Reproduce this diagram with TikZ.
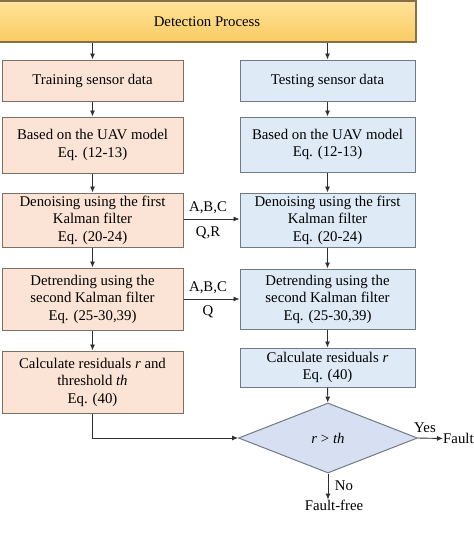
\documentclass[tikz,border=0pt]{standalone}
\usepackage{fontspec}
\setmainfont{Liberation Serif}
\usetikzlibrary{shapes.geometric,arrows.meta}
\definecolor{lfill}{HTML}{FBE4D5}
\definecolor{lline}{HTML}{7E6F66}
\definecolor{rfill}{HTML}{DEEAF6}
\definecolor{rline}{HTML}{6F7A86}
\definecolor{dfill}{HTML}{D6E0F2}
\definecolor{topA}{HTML}{FFE39A}
\definecolor{topB}{HTML}{F9CB62}
\definecolor{topline}{HTML}{86704A}
\definecolor{arr}{HTML}{303030}
\begin{document}
\begin{tikzpicture}[x=1pt,y=-1pt,
  every node/.style={font=\rmfamily\fontsize{14.8}{17.5}\selectfont, text=black},
  lbox/.style={draw=lline, fill=lfill, line width=1pt, align=center, inner sep=0pt, minimum width=181pt},
  rbox/.style={draw=rline, fill=rfill, line width=1pt, align=center, inner sep=0pt, minimum width=175pt},
  conn/.style={draw=arr, line width=0.9pt, -{Latex[length=6pt,width=5pt]}},
  lab/.style={inner sep=0pt}
]
\useasboundingbox (0,0) rectangle (474,533);
\node[draw=topline, line width=1.2pt, top color=topA, bottom color=topB, minimum width=418pt, minimum height=41pt, inner sep=0pt] (top) at (207,21.5) {Detection Process};

\node[lbox, minimum height=41pt] (l1) at (92.5,80.5) {Training sensor data};
\node[lbox, minimum height=56pt] (l2) at (92.5,145) {Based on the UAV model\\Eq. (12-13)};
\node[lbox, minimum height=54pt] (l3) at (92.5,220) {Denoising using the first\\Kalman filter\\Eq. (20-24)};
\node[lbox, minimum height=62pt] (l4) at (92.5,299) {Detrending using the\\second Kalman filter\\Eq. (25-30,39)};
\node[lbox, minimum height=62pt] (l5) at (92.5,382) {Calculate residuals \textit{r} and\\threshold \textit{th}\\Eq. (40)};

\node[rbox, minimum height=41pt] (r1) at (327.5,80.5) {Testing sensor data};
\node[rbox, minimum height=55pt] (r2) at (327.5,144.5) {Based on the UAV model\\Eq. (12-13)};
\node[rbox, minimum height=54pt] (r3) at (327.5,220) {Denoising using the first\\Kalman filter\\Eq. (20-24)};
\node[rbox, minimum height=60pt] (r4) at (327.5,299) {Detrending using the\\second Kalman filter\\Eq. (25-30,39)};
\node[rbox, minimum height=39pt] (r5) at (327.5,367.5) {Calculate residuals \textit{r}\\Eq. (40)};

\node[diamond, draw=rline, fill=dfill, line width=1pt, minimum width=179pt, minimum height=70pt, inner sep=0pt, aspect=2.5] (dia) at (328,438) {\textit{r} > \textit{th}};

\node[lab, anchor=west] (fault) at (443,438.5) {Fault};
\node[lab] (ff) at (334,505) {Fault-free};
\node[lab] at (425,428) {Yes};
\node[lab] at (344,486) {No};

\node[lab] at (208,208) {A,B,C};
\node[lab] at (208,233) {Q,R};
\node[lab] at (208,288) {A,B,C};
\node[lab] at (208,312) {Q};

\draw[conn] (l1.north |- top.south) -- (l1.north);
\draw[conn] (r1.north |- top.south) -- (r1.north);
\draw[conn] (l1) -- (l2);
\draw[conn] (l2) -- (l3);
\draw[conn] (l3) -- (l4);
\draw[conn] (l4) -- (l5);
\draw[conn] (r1) -- (r2);
\draw[conn] (r2) -- (r3);
\draw[conn] (r3) -- (r4);
\draw[conn] (r4) -- (r5);
\draw[conn] (r5) -- (dia);
\draw[conn] (l3.east |- 0,219) -- (r3.west |- 0,219);
\draw[conn] (l4.east) -- (r4.west);
\draw[conn] (l5.south) |- (dia.west);
\draw[conn] (dia.east) -- (fault.west);
\draw[conn] (dia.south) -- (dia.south |- ff.north);
\end{tikzpicture}
\end{document}
